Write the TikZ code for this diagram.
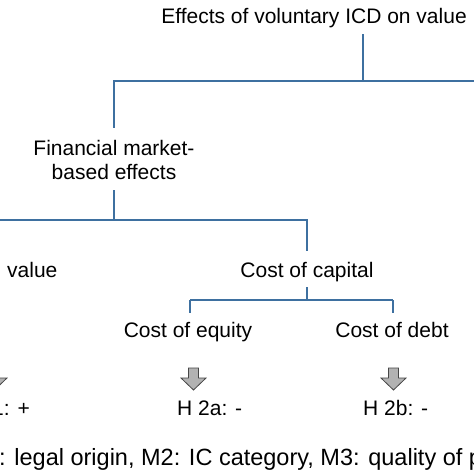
\documentclass[tikz,border=0pt]{standalone}
\usepackage{fontspec}
\setmainfont{Liberation Sans}
\usetikzlibrary{calc}
\definecolor{treeblue}{RGB}{62,112,160}
\definecolor{arrfill}{RGB}{178,178,178}
\definecolor{arrline}{RGB}{70,70,70}
\tikzset{
  lbl/.style={font=\fontsize{21}{24}\selectfont, inner sep=0pt, text=black},
  tree/.style={draw=treeblue, line width=1.6pt},
  downarr/.pic={\draw[arrline, fill=arrfill, line width=0.8pt, line join=miter]
    (-5,0) -- (5,0) -- (5,10) -- (12.5,10) -- (0,22) -- (-12.5,10) -- (-5,10) -- cycle;}
}
\begin{document}
\begin{tikzpicture}[x=1pt,y=-1pt]
\useasboundingbox (0,0) rectangle (474,474);
\clip (0,0) rectangle (474,474);
\fill[white] (0,0) rectangle (474,474);
% nodes
\node[lbl, anchor=base] (title) at (314,23) {Effects of voluntary ICD on value};
\node[lbl, anchor=base, align=center] (fin) at (114,179) {Financial market-\\based effects};
\node[lbl, anchor=base west] (val) at (7,277) {value};
\node[lbl, anchor=base] (cap) at (307,277) {Cost of capital};
\node[lbl, anchor=base] (eq) at (188,337) {Cost of equity};
\node[lbl, anchor=base] (debt) at (392,337) {Cost of debt};
\node[lbl, anchor=base west] (h2a) at (177,415) {H 2a: -};
\node[lbl, anchor=base west] (h2b) at (363,415) {H 2b: -};
\node[lbl, anchor=base east] (h1) at (30,415) {H 1: +};
\node[lbl, anchor=base west, font=\fontsize{23.5}{26}\selectfont] (mods) at (-1,465) {: legal origin, M2: IC category, M3: quality of p};
% junctions
\coordinate (j1) at (363,81);
\coordinate (offR) at (480,81);
\coordinate (j2) at (114,220);
\coordinate (offL) at (-6,220);
\coordinate (j3) at (307,300);
\coordinate (jL) at (190,300);
\coordinate (jR) at (393,300);
% connectors
\draw[tree] ($(title.south -| j1)+(0,6.6)$) -- (j1) -- (offR);
\draw[tree] (j1) -| ($(fin.north)+(0,-11.7)$);
\draw[tree] ($(fin.south)+(0,11)$) -- (j2);
\draw[tree] (offL) -- (j2) -| ($(cap.north)+(0,-11)$);
\draw[tree] ($(cap.south)+(0,5.6)$) -- (j3);
\draw[tree] (jL) -- (jR);
\draw[tree] (jL) -- ($(jL |- eq.north)+(0,-8.7)$);
\draw[tree] (jR) -- ($(jR |- debt.north)+(0,-8.7)$);
% block arrows
\pic at (193.5,368) {downarr};
\pic at (393.5,368) {downarr};
\pic at (-5.5,368) {downarr};
\end{tikzpicture}
\end{document}
